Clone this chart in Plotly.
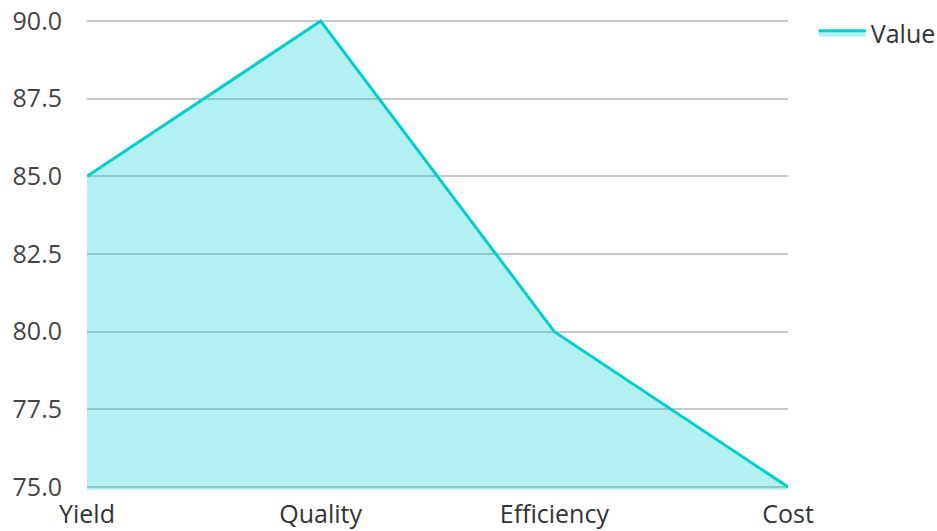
import plotly.graph_objects as go

categories = ["Yield", "Quality", "Efficiency", "Cost"]
values = [85, 90, 80, 75]
y_ticks = [75.0, 77.5, 80.0, 82.5, 85.0, 87.5, 90.0]

fig = go.Figure()
fig.add_trace(go.Scatter(
    x=categories, y=values, mode="lines", name="Value",
    fill="tozeroy", fillcolor="rgba(0,206,209,0.3)",
    line=dict(color="#00CED1", width=3),
))
fig.update_layout(
    width=937, height=531,
    margin=dict(l=87, r=149, t=18, b=41),
    paper_bgcolor="white", plot_bgcolor="white",
    font=dict(family="Open Sans", size=25, color="#444"),
    showlegend=True,
    legend=dict(xref="container", yref="container", x=0.8685, y=0.981,
                xanchor="left", yanchor="top",
                itemwidth=47, font=dict(size=25, color="#333")),
    xaxis=dict(range=[0, 3], showgrid=False, zeroline=False, showline=False,
               ticks="", automargin=False, ticklabelstandoff=7,
               tickfont=dict(color="#333")),
    yaxis=dict(range=[74.9, 90.1], tickvals=y_ticks,
               ticktext=[f"{v:.1f}" for v in y_ticks],
               showgrid=True, gridcolor="#c8c8c8", gridwidth=1.5,
               zeroline=False, showline=False, ticks="", automargin=False,
               ticklabelstandoff=24,
               tickfont=dict(color="#444")),
)
fig.write_html("out.html", config={"displayModeBar": False},
               post_script="document.body.style.margin='0';")
